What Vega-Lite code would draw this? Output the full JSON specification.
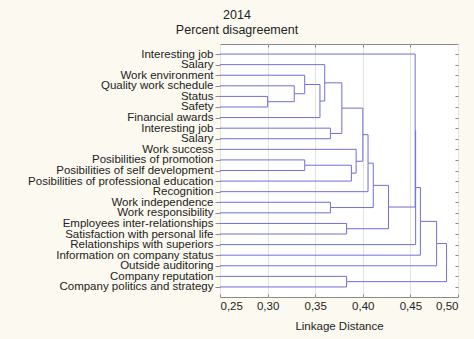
{
  "$schema": "https://vega.github.io/schema/vega-lite/v6.json",
  "width": 238,
  "height": 253,
  "autosize": {"type": "none"},
  "padding": {"left": 220, "top": 44, "right": 16, "bottom": 42},
  "background": "#fcf9f0",
  "title": {
    "text": "2014",
    "subtitle": "Percent disagreement",
    "anchor": "middle",
    "frame": "group",
    "dx": -102,
    "offset": 7,
    "font": "Liberation Sans",
    "fontSize": 12.5,
    "fontWeight": "normal",
    "color": "#222",
    "subtitleFont": "Liberation Sans",
    "subtitleFontSize": 12.5,
    "subtitleColor": "#222",
    "subtitlePadding": 3
  },
  "config": {
    "view": {"fill": "white", "stroke": "#8a8a8a", "strokeWidth": 1},
    "axis": {"labelFont": "Liberation Sans", "titleFont": "Liberation Sans", "labelColor": "#222", "titleColor": "#222", "tickColor": "#8a8a8a", "domain": false}
  },
  "data": {
    "values": [
      {"ch": 0.25, "cy": 0, "ph": 0.455, "py": 7.226},
      {"ch": 0.25, "cy": 1, "ph": 0.360, "py": 2.719},
      {"ch": 0.25, "cy": 2, "ph": 0.339, "py": 2.875},
      {"ch": 0.25, "cy": 3, "ph": 0.328, "py": 3.75},
      {"ch": 0.25, "cy": 4, "ph": 0.300, "py": 4.5},
      {"ch": 0.25, "cy": 5, "ph": 0.300, "py": 4.5},
      {"ch": 0.25, "cy": 6, "ph": 0.355, "py": 4.4375},
      {"ch": 0.25, "cy": 7, "ph": 0.366, "py": 7.5},
      {"ch": 0.25, "cy": 8, "ph": 0.366, "py": 7.5},
      {"ch": 0.25, "cy": 9, "ph": 0.393, "py": 10.125},
      {"ch": 0.25, "cy": 10, "ph": 0.339, "py": 10.5},
      {"ch": 0.25, "cy": 11, "ph": 0.339, "py": 10.5},
      {"ch": 0.25, "cy": 12, "ph": 0.388, "py": 11.25},
      {"ch": 0.25, "cy": 13, "ph": 0.4055, "py": 10.309},
      {"ch": 0.25, "cy": 14, "ph": 0.366, "py": 14.5},
      {"ch": 0.25, "cy": 15, "ph": 0.366, "py": 14.5},
      {"ch": 0.25, "cy": 16, "ph": 0.383, "py": 16.5},
      {"ch": 0.25, "cy": 17, "ph": 0.383, "py": 16.5},
      {"ch": 0.25, "cy": 18, "ph": 0.4555, "py": 12.613},
      {"ch": 0.25, "cy": 19, "ph": 0.4605, "py": 15.807},
      {"ch": 0.25, "cy": 20, "ph": 0.4775, "py": 17.903},
      {"ch": 0.25, "cy": 21, "ph": 0.383, "py": 21.5},
      {"ch": 0.25, "cy": 22, "ph": 0.383, "py": 21.5},
      {"ch": 0.300, "cy": 4.5, "ph": 0.328, "py": 3.75},
      {"ch": 0.328, "cy": 3.75, "ph": 0.339, "py": 2.875},
      {"ch": 0.339, "cy": 2.875, "ph": 0.355, "py": 4.4375},
      {"ch": 0.355, "cy": 4.4375, "ph": 0.360, "py": 2.719},
      {"ch": 0.360, "cy": 2.719, "ph": 0.378, "py": 5.109},
      {"ch": 0.366, "cy": 7.5, "ph": 0.378, "py": 5.109},
      {"ch": 0.378, "cy": 5.109, "ph": 0.400, "py": 7.617},
      {"ch": 0.339, "cy": 10.5, "ph": 0.388, "py": 11.25},
      {"ch": 0.388, "cy": 11.25, "ph": 0.393, "py": 10.125},
      {"ch": 0.393, "cy": 10.125, "ph": 0.400, "py": 7.617},
      {"ch": 0.400, "cy": 7.617, "ph": 0.4055, "py": 10.309},
      {"ch": 0.4055, "cy": 10.309, "ph": 0.411, "py": 12.404},
      {"ch": 0.366, "cy": 14.5, "ph": 0.411, "py": 12.404},
      {"ch": 0.411, "cy": 12.404, "ph": 0.427, "py": 14.452},
      {"ch": 0.383, "cy": 16.5, "ph": 0.427, "py": 14.452},
      {"ch": 0.427, "cy": 14.452, "ph": 0.455, "py": 7.226},
      {"ch": 0.455, "cy": 7.226, "ph": 0.4555, "py": 12.613},
      {"ch": 0.4555, "cy": 12.613, "ph": 0.4605, "py": 15.807},
      {"ch": 0.4605, "cy": 15.807, "ph": 0.4775, "py": 17.903},
      {"ch": 0.4775, "cy": 17.903, "ph": 0.488, "py": 19.702},
      {"ch": 0.383, "cy": 21.5, "ph": 0.488, "py": 19.702}
    ]
  },
  "layer": [
    {
      "mark": {"type": "rule", "color": "#6f6fd6", "strokeWidth": 1},
      "encoding": {
        "x": {
          "field": "ch", "type": "quantitative",
          "scale": {"domain": [0.25, 0.5], "nice": false, "zero": false},
          "axis": {
            "orient": "bottom",
            "values": [0.25, 0.3, 0.35, 0.4, 0.45, 0.5],
            "labelExpr": "replace(format(datum.value, '.2f'), '.', ',')",
            "labelFontSize": 11.5,
            "labelPadding": 6,
            "labelOverlap": false,
            "grid": true,
            "gridColor": "#e2e2e2",
            "tickSize": -3,
            "title": "Linkage Distance",
            "titleFontSize": 11.5,
            "titleFontWeight": "normal",
            "titlePadding": 9
          }
        },
        "x2": {"field": "ph"},
        "y": {
          "field": "cy", "type": "quantitative",
          "scale": {"domain": [-0.95, 22.95], "reverse": true, "nice": false, "zero": false},
          "axis": {
            "orient": "left",
            "values": [0,1,2,3,4,5,6,7,8,9,10,11,12,13,14,15,16,17,18,19,20,21,22],
            "labelExpr": "['Interesting job','Salary','Work environment','Quality work schedule','Status','Safety','Financial awards','Interesting job','Salary','Work success','Posibilities of promotion','Posibilities of self development','Posibilities of professional education','Recognition','Work independence','Work responsibility','Employees inter-relationships','Satisfaction with personal life','Relationships with superiors','Information on company status','Outside auditoring','Company reputation','Company politics and strategy'][datum.value]",
            "labelFontSize": 11.5,
            "labelPadding": 2,
            "labelBaseline": "middle",
            "labelOverlap": false,
            "labelLimit": 0,
            "grid": false,
            "tickSize": 5,
            "title": null
          }
        }
      }
    },
    {
      "mark": {"type": "rule", "color": "#6f6fd6", "strokeWidth": 1},
      "encoding": {
        "x": {
          "field": "ph", "type": "quantitative",
          "scale": {"domain": [0.25, 0.5], "nice": false, "zero": false},
          "axis": {"orient": "top", "values": [0.3, 0.35, 0.4, 0.45], "labels": false, "grid": false, "tickSize": -3, "title": null}
        },
        "y": {
          "field": "cy", "type": "quantitative",
          "scale": {"domain": [-0.95, 22.95], "reverse": true, "nice": false, "zero": false},
          "axis": {"orient": "right", "values": [0,1,2,3,4,5,6,7,8,9,10,11,12,13,14,15,16,17,18,19,20,21,22], "labels": false, "grid": false, "tickSize": -3, "title": null}
        },
        "y2": {"field": "py"}
      }
    }
  ],
  "resolve": {"axis": {"x": "independent", "y": "independent"}}
}
